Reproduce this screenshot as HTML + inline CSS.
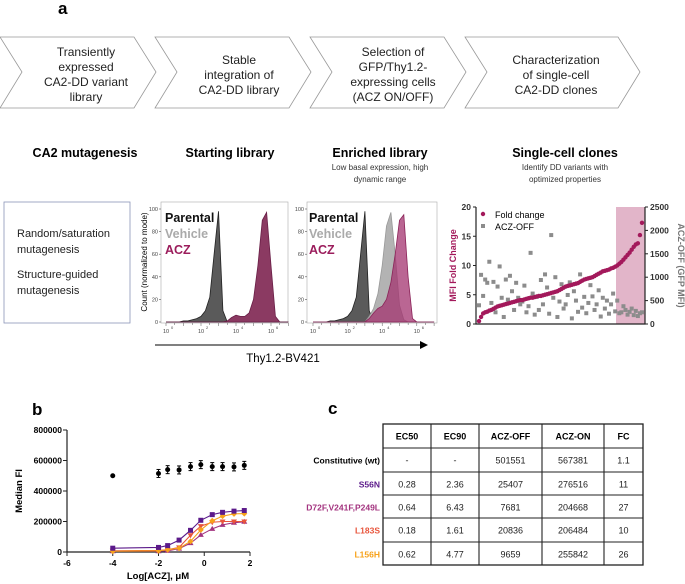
<!DOCTYPE html>
<html><head><meta charset="utf-8"><style>
body{margin:0;background:#fff;}
svg{display:block;font-family:"Liberation Sans",sans-serif;}
</style></head><body>
<svg id="fig" width="685" height="584" viewBox="0 0 685 584">
<text x="58" y="14" font-size="17" font-weight="bold">a</text>
<g fill="#fff" stroke="#999" stroke-width="0.8">
 <polygon points="0,37 134,37 156,72 134,108 0,108 22,72"/>
 <polygon points="155,37 289,37 311,72 289,108 155,108 177,72"/>
 <polygon points="310,37 444,37 466,72 444,108 310,108 332,72"/>
 <polygon points="465,37 618,37 640,72 618,108 465,108 487,72"/>
</g>
<g font-size="12" text-anchor="middle" fill="#222">
 <text x="86" y="56">Transiently</text><text x="86" y="71">expressed</text><text x="86" y="86">CA2-DD variant</text><text x="86" y="101">library</text>
 <text x="239" y="64">Stable</text><text x="239" y="79">integration of</text><text x="239" y="94">CA2-DD library</text>
 <text x="393" y="56">Selection of</text><text x="393" y="71">GFP/Thy1.2-</text><text x="393" y="86">expressing cells</text><text x="393" y="101">(ACZ ON/OFF)</text>
 <text x="556" y="64">Characterization</text><text x="556" y="79">of single-cell</text><text x="556" y="94">CA2-DD clones</text>
</g>
<g font-size="12.5" font-weight="bold" text-anchor="middle">
 <text x="85" y="157">CA2 mutagenesis</text><text x="230" y="157">Starting library</text>
 <text x="380" y="157">Enriched library</text><text x="565" y="157">Single-cell clones</text>
</g>
<g font-size="8" text-anchor="middle" fill="#333">
 <text x="380" y="170">Low basal expression, high</text><text x="380" y="182">dynamic range</text>
 <text x="565" y="170">Identify DD variants with</text><text x="565" y="182">optimized properties</text>
</g>
<rect x="4" y="202" width="126" height="121" fill="#fff" stroke="#8a93b8" stroke-width="0.8"/>
<g font-size="11" fill="#222">
 <text x="17" y="237">Random/saturation</text><text x="17" y="253">mutagenesis</text>
 <text x="17" y="278">Structure-guided</text><text x="17" y="294">mutagenesis</text>
</g>
<g id="hist"></g>
<text transform="translate(147,262) rotate(-90)" font-size="8" text-anchor="middle">Count (normalized to mode)</text>
<line x1="155" y1="345" x2="420" y2="345" stroke="#000" stroke-width="1"/>
<polygon points="420,341 428,345 420,349" fill="#000"/>
<text x="283" y="362" font-size="11.5" text-anchor="middle">Thy1.2-BV421</text>
<g id="scat"></g>
<text x="32" y="415" font-size="17" font-weight="bold">b</text>
<g id="dose"></g>
<text x="328" y="414" font-size="17" font-weight="bold">c</text>
<g id="tbl"></g>
</svg>
<script>
const NS="http://www.w3.org/2000/svg";
function mk(p,t,a){const e=document.createElementNS(NS,t);for(const k in a)e.setAttribute(k,a[k]);p.appendChild(e);return e;}
function tx(p,x,y,s,a){const e=mk(p,'text',Object.assign({x:x,y:y},a));e.textContent=s;return e;}

// ---------- histograms ----------
const histLogs=[0,0.25,0.5,0.75,1,1.25,1.5,1.75,2,2.25,2.5,2.75,3,3.25,3.5,3.75,4,4.25,4.5,4.75,5,5.25,5.5,5.75,6,6.25,6.5,6.75,7];
const parentalCounts=[0,0,0,0,1,1,2,3,5,10,22,60,98,10,0,0,0,0,0,0,0,0,0,0,0,0,0,0,0];
const aczStartCounts=[0,0,0,0,0,0,0,0,0,0,0,0,0,0,1,4,6,5,5,8,20,50,90,97,50,5,0,0,0];
const vehicleEnrCounts=[0,0,0,0,0,0,0,0,0,0,0,0,0,5,12,25,50,85,97,60,15,2,0,0,0,0,0,0,0];
const aczEnrCounts=[0,0,0,0,0,0,0,0,0,0,0,0,0,3,8,12,14,20,35,60,90,95,40,3,0,0,0,0,0];
const histTicksY=[0,20,40,60,80,100];
const histTicksX=[0,2,4,6];
const H=document.getElementById('hist');
function histPanel(x0,x1,log0,perDec,series,name){
 const g=mk(H,'g',{});
 
 
 const yb=322,yt=209,top=202;
 const sx=v=>log0+v*perDec, sy=v=>yb-(v/100)*(yb-yt);
 const fr=mk(g,'rect',{x:x0,y:top,width:x1-x0,height:323-top,fill:'#fff',stroke:'#aaa','stroke-width':0.6});
 
 
 series.forEach(s=>{
  let d='M'+sx(histLogs[0])+','+sy(0);
  histLogs.forEach((l,i)=>{d+=' L'+sx(l).toFixed(1)+','+sy(s.c[i]).toFixed(1);});
  d+=' L'+sx(histLogs[histLogs.length-1])+','+sy(0)+'Z';
  const p=mk(g,'path',{d:d,fill:s.f,stroke:s.st,'stroke-width':0.8,'fill-opacity':s.o});
  
  
 });
 histTicksY.forEach(v=>{mk(g,'line',{x1:x0-2,x2:x0,y1:sy(v),y2:sy(v),stroke:'#555','stroke-width':0.6});
  const t=tx(g,x0-3,sy(v)+2,v,{'font-size':5.5,'text-anchor':'end',fill:'#444'});
  });
 histTicksX.forEach(v=>{const t=tx(g,sx(v),333,'10',{'font-size':5.5,'text-anchor':'middle',fill:'#444'});
  
  tx(g,sx(v)+5,329,v,{'font-size':4,fill:'#444'});});
 for(let k=0;k<=7;k+=0.5){mk(g,'line',{x1:sx(k),x2:sx(k),y1:323,y2:k%1?325:326,stroke:'#555','stroke-width':0.5});}
 return g;
}
const g1=histPanel(161,288,166,17.5,[
 {c:parentalCounts,f:'#5a5a5a',st:'#222',o:1,n:'parental-hist'},
 {c:aczStartCounts,f:'#8b3a62',st:'#6a1f47',o:1,n:'acz-hist'}],'starting-library-histogram');
const g2=histPanel(307,437,313,17.3,[
 {c:parentalCounts,f:'#5a5a5a',st:'#222',o:1,n:'parental-hist'},
 {c:vehicleEnrCounts,f:'#b3b3b3',st:'#999',o:1,n:'vehicle-hist'},
 {c:aczEnrCounts,f:'#a3336f',st:'#8a2358',o:0.75,n:'acz-hist'}],'enriched-library-histogram');
[[g1,165],[g2,309]].forEach(([g,x])=>{
 const a=tx(g,x,222,'Parental',{'font-size':12.5,'font-weight':'bold',fill:'#111'});
 const b=tx(g,x,238,'Vehicle',{'font-size':12.5,'font-weight':'bold',fill:'#aaa'});
 const c=tx(g,x,254,'ACZ',{'font-size':12.5,'font-weight':'bold',fill:'#9b1d5c'});
});

// ---------- scatter ----------
const foldChange=[0.5,1.2,1.8,2.0,2.1,2.3,2.4,2.6,2.8,3.0,3.1,3.2,3.3,3.4,3.5,3.6,3.7,3.8,3.9,4.0,4.1,4.1,4.2,4.3,4.4,4.5,4.5,4.6,4.7,4.8,4.8,4.9,5.0,5.1,5.2,5.3,5.4,5.5,5.6,5.8,6.0,6.2,6.4,6.5,6.6,6.7,6.8,6.9,7.0,7.2,7.4,7.6,7.7,7.8,7.9,8.0,8.2,8.4,8.6,8.8,9.0,9.1,9.2,9.3,9.5,9.6,9.8,10.0,10.3,10.6,11.0,11.4,11.8,12.2,12.7,13.2,13.6,13.8,15.2,17.3];
const aczOff=[400,1050,600,950,880,1330,450,900,250,800,1230,560,150,950,520,1030,700,300,880,560,420,480,820,250,380,1520,650,200,580,300,940,420,1060,780,220,1900,560,1000,150,480,850,330,420,620,890,120,700,500,260,1060,350,580,230,450,830,590,300,420,720,160,560,330,500,220,420,650,270,500,230,250,380,300,200,260,330,190,280,170,230,250];
const foldTicks=[0,5,10,15,20];
const offTicks=[0,500,1000,1500,2000,2500];
const S=document.getElementById('scat');
const L=476,R=645,T=207,B=324;
const sxS=i=>L+3+(i/(foldChange.length-1))*(R-L-6);
const syF=v=>B-(v/20)*(B-T), syO=v=>B-(v/2500)*(B-T);
const sh=mk(S,'rect',{x:616,y:T,width:R-616,height:B-T,fill:'#e2b5c9'});

aczOff.forEach((v,i)=>{const r=mk(S,'rect',{x:sxS(i)-2,y:syO(v)-2,width:4,height:4,fill:'#8c8c8c'});
 });
foldChange.forEach((v,i)=>{const c=mk(S,'circle',{cx:sxS(i),cy:syF(v),r:2.2,fill:'#a3195b'});
 });
mk(S,'path',{d:`M${L},${T} V${B} H${R} V${T}`,fill:'none',stroke:'#222','stroke-width':1.2});
foldTicks.forEach(v=>{mk(S,'line',{x1:L-3,x2:L,y1:syF(v),y2:syF(v),stroke:'#222'});
 const t=tx(S,L-5,syF(v)+3,v,{'font-size':8.5,'text-anchor':'end','font-weight':'bold',fill:'#333'});});
offTicks.forEach(v=>{mk(S,'line',{x1:R,x2:R+3,y1:syO(v),y2:syO(v),stroke:'#222'});
 const t=tx(S,R+5,syO(v)+3,v,{'font-size':8.5,'font-weight':'bold',fill:'#333'});});
const yt1=tx(S,0,0,'MFI Fold Change',{transform:`translate(${L-20},${(T+B)/2}) rotate(-90)`,'font-size':9,'font-weight':'bold','text-anchor':'middle',fill:'#a3195b'});

const yt2=tx(S,0,0,'ACZ-OFF (GFP MFI)',{transform:`translate(${R+33},${(T+B)/2}) rotate(90)`,'font-size':9,'font-weight':'bold','text-anchor':'middle',fill:'#777'});

const lg1=mk(S,'circle',{cx:483,cy:214,r:2.2,fill:'#a3195b'});
tx(S,495,218,'Fold change',{'font-size':9});
const lg2=mk(S,'rect',{x:481,y:224,width:4,height:4,fill:'#8c8c8c'});
tx(S,495,230,'ACZ-OFF',{'font-size':9});

// ---------- dose response ----------
const doseX=[-4,-2,-1.6,-1.1,-0.6,-0.15,0.35,0.8,1.3,1.75];
const constitutiveFI=[500000,515000,540000,538000,560000,573000,560000,560000,558000,568000];
const s56nFI=[25000,30000,42000,78000,142000,208000,245000,260000,268000,272000];
const l183sFI=[8000,10000,15000,30000,110000,170000,195000,200000,200000,200000];
const l156hFI=[5000,8000,15000,25000,70000,145000,205000,235000,250000,252000];
const d72fFI=[5000,5000,8000,22000,58000,112000,152000,178000,192000,198000];
const doseTicksX=[-6,-4,-2,0,2];
const doseTicksY=[0,200000,400000,600000,800000];
const D=document.getElementById('dose');
const dx=v=>67+(v+6)*(250-67)/8, dy=v=>552-v/800000*122;
mk(D,'path',{d:`M67,430 V552 H250`,fill:'none',stroke:'#222','stroke-width':1.2});
doseTicksY.forEach(v=>{mk(D,'line',{x1:63,x2:67,y1:dy(v),y2:dy(v),stroke:'#222'});
 const t=tx(D,62,dy(v)+3,v,{'font-size':8.5,'font-weight':'bold','text-anchor':'end'});});
doseTicksX.forEach(v=>{mk(D,'line',{x1:dx(v),x2:dx(v),y1:552,y2:556,stroke:'#222'});
 const t=tx(D,dx(v),566,v,{'font-size':8.5,'font-weight':'bold','text-anchor':'middle'});});
const xa=tx(D,158,579,'Log[ACZ], μM',{'font-size':9.5,'font-weight':'bold','text-anchor':'middle'});
const ya=tx(D,0,0,'Median FI',{transform:'translate(22,491) rotate(-90)','font-size':9.5,'font-weight':'bold','text-anchor':'middle'});
function series(vals,col,shape,name,line){
 const g=mk(D,'g',{});
 
 
 if(line){mk(g,'polyline',{points:doseX.map((x,i)=>dx(x)+','+dy(vals[i])).join(' '),fill:'none',stroke:col,'stroke-width':1.1});}
 doseX.forEach((x,i)=>{const X=dx(x),Y=dy(vals[i]);let m;
  if(shape==='c')m=mk(g,'circle',{cx:X,cy:Y,r:2.5,fill:col});
  else if(shape==='s')m=mk(g,'rect',{x:X-2.5,y:Y-2.5,width:5,height:5,fill:col});
  else if(shape==='u')m=mk(g,'polygon',{points:`${X},${Y-3} ${X+3},${Y+2} ${X-3},${Y+2}`,fill:col});
  else if(shape==='d')m=mk(g,'polygon',{points:`${X-3},${Y-2} ${X+3},${Y-2} ${X},${Y+3}`,fill:col});
  else m=mk(g,'polygon',{points:`${X},${Y-3} ${X+3},${Y} ${X},${Y+3} ${X-3},${Y}`,fill:col});
  
  
  if(shape==='c'&&i>0){mk(g,'line',{x1:X,x2:X,y1:Y-4,y2:Y+4,stroke:col});mk(g,'line',{x1:X-2,x2:X+2,y1:Y-4,y2:Y-4,stroke:col});mk(g,'line',{x1:X-2,x2:X+2,y1:Y+4,y2:Y+4,stroke:col});}
 });
}
series(constitutiveFI,'#000','c','constitutive-series',false);
series(d72fFI,'#a3337f','u','d72f-series',true);
series(l183sFI,'#e8553c','d','l183s-series',true);
series(l156hFI,'#f7a21b','r','l156h-series',true);
series(s56nFI,'#5b1a8a','s','s56n-series',true);

// ---------- table ----------
const colHeads=['EC50','EC90','ACZ-OFF','ACZ-ON','FC'];
const rowNames=['Constitutive (wt)','S56N','D72F,V241F,P249L','L183S','L156H'];
const rowColors=['#000','#5b1a8a','#a3337f','#e8553c','#f7a21b'];
const cells=[['-','-','501551','567381','1.1'],['0.28','2.36','25407','276516','11'],['0.64','6.43','7681','204668','27'],['0.18','1.61','20836','206484','10'],['0.62','4.77','9659','255842','26']];
const TB=document.getElementById('tbl');
const cx=[383,431,479,542,604,643], ry=[424,448,472,495,518,542,565];
mk(TB,'rect',{x:383,y:424,width:260,height:141,fill:'#fff',stroke:'#222','stroke-width':1.3});
cx.slice(1,5).forEach(x=>mk(TB,'line',{x1:x,x2:x,y1:424,y2:565,stroke:'#222','stroke-width':1.1}));
ry.slice(1,6).forEach(y=>mk(TB,'line',{x1:383,x2:643,y1:y,y2:y,stroke:'#222','stroke-width':1.1}));
colHeads.forEach((h,j)=>{const t=tx(TB,(cx[j]+cx[j+1])/2,ry[0]+15.5,h,{'font-size':9,'font-weight':'bold','text-anchor':'middle'});});
rowNames.forEach((n,i)=>{const t=tx(TB,380,ry[i+1]+15.5,n,{'font-size':8.5,'font-weight':'bold','text-anchor':'end',fill:rowColors[i]});
 cells[i].forEach((c,j)=>{const u=tx(TB,(cx[j]+cx[j+1])/2,ry[i+1]+15.5,c,{'font-size':9,'text-anchor':'middle',fill:'#222'});});
});
</script>
</body></html>
